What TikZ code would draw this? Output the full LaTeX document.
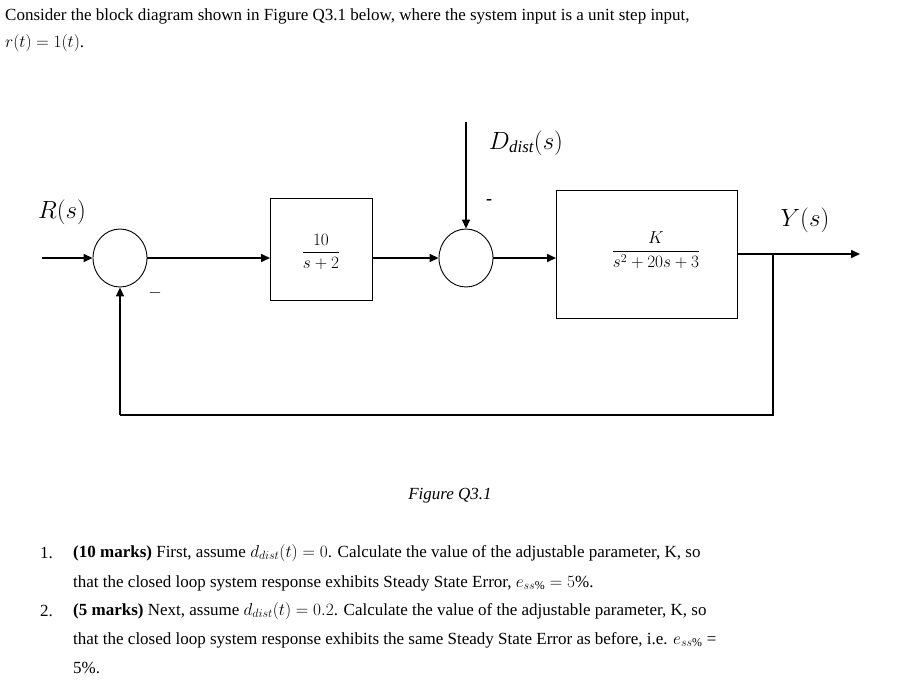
\documentclass[tikz,border=0pt]{standalone}
\usepackage{fontspec}
\setmainfont{Liberation Serif}
\usetikzlibrary{arrows.meta,shapes.geometric}
\begin{document}
\begin{tikzpicture}[x=1pt,y=-1pt,
  sig/.style={line width=1.6pt,-{Triangle[length=9pt,width=8pt]}},
  wire/.style={line width=1.6pt},
  blk/.style={draw,line width=0.9pt,inner sep=0pt,anchor=north west},
  sumj/.style={draw,line width=0.9pt,ellipse,minimum width=54pt,minimum height=58pt,inner sep=0pt},
  txt/.style={font=\fontsize{17}{20}\selectfont,anchor=west,inner sep=0pt}]
\useasboundingbox (0,0) rectangle (900,696);
% top text
\node[txt] (t1) at (5,16) {Consider the block diagram shown in Figure Q3.1 below, where the system input is a unit step input,};
\node[txt] (t2) at (5,43) {$r(t)=1(t)$.};
% blocks
\node[sumj] (s1) at (120,258) {};
\node[sumj] (s2) at (466,258) {};
\node[blk,minimum width=102pt,minimum height=102pt] (b1) at (270,198) {};
\node[blk,minimum width=181pt,minimum height=128pt] (b2) at (556,190) {};
\node[font=\fontsize{18}{20}\selectfont] (f1) at (321,252) {$\displaystyle\frac{10}{s+2}$};
\node[font=\fontsize{18}{20}\selectfont] (f2) at (656,250) {$\displaystyle\frac{\;\;K\;\;}{s^2+20s+3}$};
% signals
\coordinate (in) at (42,258);
\coordinate (br) at (773,254);
\coordinate (out) at (860,254);
\coordinate (d) at (466,122);
\coordinate (bl) at (773,415);
\coordinate (bll) at (120,415);
\draw[sig] (in) -- (s1.west);
\draw[sig] (s1.east) -- (b1.west|-s1);
\draw[sig] (b1.east|-s2) -- (s2.west);
\draw[sig] (s2.east) -- (b2.west|-s2);
\draw[sig] (b2.east|-br) -- (out);
\draw[sig] (d) -- (s2.north);
\draw[wire] (br) -- (bl) -- (bll);
\draw[sig] (bll) -- (s1.south);
% labels
\node[font=\fontsize{24}{26}\selectfont] (rl) at (62,212) {$R(s)$};
\node[font=\fontsize{24}{26}\selectfont] (yl) at (805,220) {$Y(s)$};
\node[font=\fontsize{24}{26}\selectfont] (dl) at (526,143) {$D_{\mathit{dist}}(s)$};
\node[font=\fontsize{18}{20}\selectfont\bfseries] (m2) at (489,202) {-};
\node[font=\fontsize{16}{20}\selectfont] (m1) at (155,293) {$-$};
\node[font=\fontsize{17}{20}\selectfont\itshape] (cap) at (450,496) {Figure Q3.1};
% questions
\node[txt] (n1) at (40,553) {1.};
\node[txt] (q1) at (73,553) {\textbf{(10 marks)} First, assume $d_{dist}(t)=0$. Calculate the value of the adjustable parameter, K, so};
\node[txt] (q1b) at (73,583) {that the closed loop system response exhibits Steady State Error, $e_{ss\%}=5\%$.};
\node[txt] (n2) at (40,611) {2.};
\node[txt] (q2) at (73,611) {\textbf{(5 marks)} Next, assume $d_{dist}(t)=0.2$. Calculate the value of the adjustable parameter, K, so};
\node[txt] (q2b) at (73,640) {that the closed loop system response exhibits the same Steady State Error as before, i.e. $e_{ss\%}$ =};
\node[txt] (q2c) at (73,668) {5\%.};
\end{tikzpicture}
\end{document}
